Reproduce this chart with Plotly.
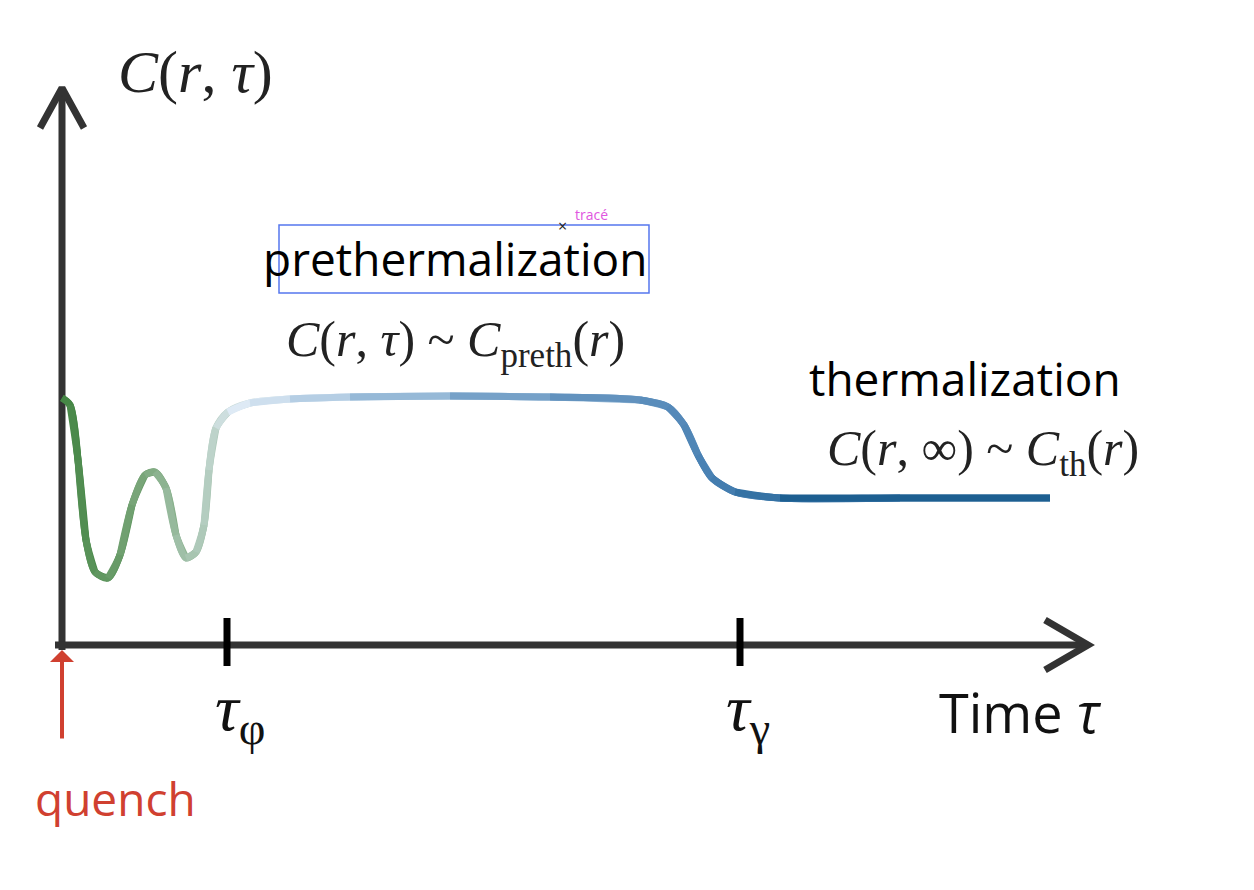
import plotly.graph_objects as go

# curve (pixel coordinates, y downward)
curve_x = [62, 70, 78, 86, 95, 108, 120, 132, 145, 155, 166, 176, 186, 196, 204, 209, 216, 228, 250, 290,
           350, 450, 550, 640, 668, 684, 698, 712, 735, 780, 900, 1050]
curve_y = [398, 405, 460, 540, 572, 578, 555, 505, 475, 472, 488, 535, 558, 552, 525, 470, 428, 412, 403, 399,
           397, 396, 397, 400, 407, 425, 455, 478, 492, 498, 498, 498]

tick_x = [227, 740]
tick_labels = ["<i>τ</i><sub>φ</sub>", "<i>τ</i><sub>γ</sub>"]

stops = [(62, (62, 130, 62)), (150, (120, 165, 120)), (260, (225, 236, 246)),
         (500, (150, 185, 215)), (720, (75, 130, 180)), (1050, (15, 85, 135))]


def color_at(x):
    for (x0, c0), (x1, c1) in zip(stops[:-1], stops[1:]):
        if x <= x1:
            t = (x - x0) / (x1 - x0)
            return "rgb(%d,%d,%d)" % tuple(round(a + (b - a) * t) for a, b in zip(c0, c1))
    return "rgb(%d,%d,%d)" % stops[-1][1]


fig = go.Figure()
dark = "#333333"

# axes with arrowheads
fig.add_trace(go.Scatter(x=[62, 62], y=[650, 88], mode="lines", line=dict(color=dark, width=7),
                         hoverinfo="skip"))
fig.add_trace(go.Scatter(x=[40, 62, 84], y=[128, 88, 128], mode="lines",
                         line=dict(color=dark, width=7), hoverinfo="skip"))
fig.add_trace(go.Scatter(x=[55, 1088], y=[645, 645], mode="lines", line=dict(color=dark, width=7),
                         hoverinfo="skip"))
fig.add_trace(go.Scatter(x=[1045, 1088, 1045], y=[620, 645, 670], mode="lines",
                         line=dict(color=dark, width=7), hoverinfo="skip"))
for tx in tick_x:
    fig.add_trace(go.Scatter(x=[tx, tx], y=[618, 666], mode="lines",
                             line=dict(color="black", width=7), hoverinfo="skip"))

# gradient curve, overlapping spline pieces
n = len(curve_x)
for i in range(n - 1):
    a, b = max(i - 1, 0), min(i + 3, n)
    fig.add_trace(go.Scatter(x=curve_x[a:b], y=curve_y[a:b], mode="lines",
                             line=dict(color=color_at((curve_x[i] + curve_x[i + 1]) / 2), width=7,
                                       shape="spline", smoothing=0.8),
                             hoverinfo="skip"))

serif = "Liberation Serif"
sans = "Open Sans"
ann = [
    dict(x=195, y=72, text="<i>C</i>(<i>r</i>, <i>τ</i>)", size=60, family=serif, color="#222"),
    dict(x=240, y=712, text=tick_labels[0], size=66, family=serif, color="#111"),
    dict(x=748, y=712, text=tick_labels[1], size=66, family=serif, color="#111"),
    dict(x=1020, y=712, text="Time <i>τ</i>", size=54, family=sans, color="#111"),
    dict(x=115, y=798, text="quench", size=46, family=sans, color="#d04030"),
    dict(x=455, y=258, text="prethermalization", size=46, family=sans, color="#000"),
    dict(x=455, y=343, text="<i>C</i>(<i>r</i>, <i>τ</i>) ~ <i>C</i><sub>preth</sub>(<i>r</i>)",
         size=50, family=serif, color="#222"),
    dict(x=965, y=378, text="thermalization", size=46, family=sans, color="#000"),
    dict(x=983, y=452, text="<i>C</i>(<i>r</i>, ∞) ~ <i>C</i><sub>th</sub>(<i>r</i>)",
         size=50, family=serif, color="#222"),
    dict(x=591, y=214, text="tracé", size=14, family=sans, color="#e055e0"),
    dict(x=562, y=226, text="×", size=16, family=sans, color="#222"),
]
for a in ann:
    fig.add_annotation(x=a["x"], y=a["y"], text=a["text"], showarrow=False,
                       font=dict(size=a["size"], family=a["family"], color=a["color"]))

# quench arrow
fig.add_annotation(x=62, y=650, ax=62, ay=740, xref="x", yref="y", axref="x", ayref="y",
                   text="", showarrow=True, arrowhead=1, arrowsize=1, arrowwidth=4,
                   arrowcolor="#d04030")

fig.add_shape(type="rect", x0=279, x1=649, y0=225, y1=293, line=dict(color="#5577ee", width=1.5))

fig.update_layout(
    width=1254, height=890, margin=dict(l=0, r=0, t=0, b=0),
    plot_bgcolor="white", paper_bgcolor="white", showlegend=False,
    xaxis=dict(range=[8, 1262], visible=False),
    yaxis=dict(range=[898, 8], visible=False),
)
fig.write_html("out.html")
